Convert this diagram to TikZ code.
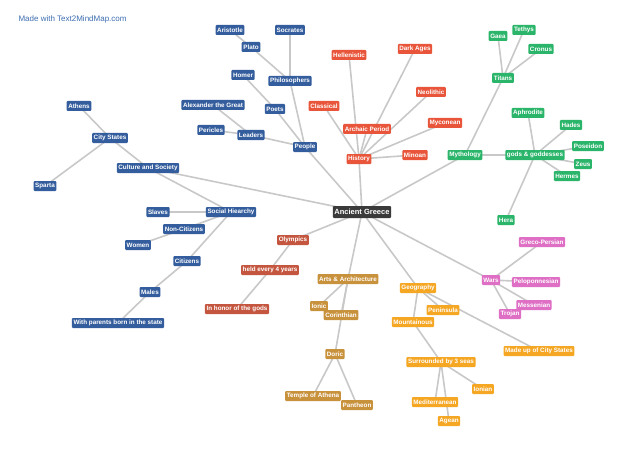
\documentclass[tikz,border=0pt]{standalone}
\usepackage{fontspec}
\setmainfont{Liberation Sans}
\usetikzlibrary{backgrounds}
\definecolor{cblue}{HTML}{345D9D}
\definecolor{cred}{HTML}{E8553A}
\definecolor{cbrick}{HTML}{C4563F}
\definecolor{cgreen}{HTML}{2BB56A}
\definecolor{cpink}{HTML}{DE6FC4}
\definecolor{cgold}{HTML}{C8913C}
\definecolor{corange}{HTML}{F5A623}
\definecolor{cdark}{HTML}{3A3A3A}
\definecolor{cedge}{HTML}{C8C8C8}
\definecolor{ctitle}{HTML}{3D6DB0}
\tikzset{
 nd/.style={rounded corners=1pt,text=white,font=\bfseries\fontsize{6.3}{7}\selectfont,inner sep=1.6pt,minimum height=10pt},
 bl/.style={nd,fill=cblue}, rd/.style={nd,fill=cred}, br/.style={nd,fill=cbrick},
 gr/.style={nd,fill=cgreen}, pk/.style={nd,fill=cpink}, gd/.style={nd,fill=cgold},
 og/.style={nd,fill=corange},
 ed/.style={draw=cedge,line width=1.6pt}
}
\begin{document}
\begin{tikzpicture}[x=1pt,y=-1pt]
\useasboundingbox (0,0) rectangle (638,452);
\node[anchor=west,text=ctitle,font=\fontsize{8}{9}\selectfont] (title) at (15,19) {Made with Text2MindMap.com};
\node[nd,fill=cdark,font=\bfseries\fontsize{7.5}{9}\selectfont,minimum height=12pt] (ag) at (362,212) {Ancient Greece};
% blue
\node[bl] (aristotle) at (230,30) {Aristotle};
\node[bl] (socrates) at (290,30) {Socrates};
\node[bl] (plato) at (251,47) {Plato};
\node[bl] (homer) at (243,75) {Homer};
\node[bl] (philo) at (290,81) {Philosophers};
\node[bl] (alex) at (213,105) {Alexander the Great};
\node[bl] (poets) at (275,109) {Poets};
\node[bl] (pericles) at (211,130) {Pericles};
\node[bl] (leaders) at (251,135) {Leaders};
\node[bl] (people) at (305,147) {People};
\node[bl] (athens) at (79,106) {Athens};
\node[bl] (city) at (110,138) {City States};
\node[bl] (culture) at (148,168) {Culture and Society};
\node[bl] (sparta) at (45,186) {Sparta};
\node[bl] (slaves) at (158,212) {Slaves};
\node[bl] (social) at (231,212) {Social Hiearchy};
\node[bl] (noncit) at (184,229) {Non-Citizens};
\node[bl] (women) at (138,245) {Women};
\node[bl] (citizens) at (187,261) {Citizens};
\node[bl] (males) at (150,292) {Males};
\node[bl] (parents) at (118,323) {With parents born in the state};
% history
\node[rd] (hell) at (349,55) {Hellenistic};
\node[rd] (dark) at (415,49) {Dark Ages};
\node[rd] (classical) at (324,106) {Classical};
\node[rd] (neo) at (431,92) {Neolithic};
\node[rd] (archaic) at (367,129) {Archaic Period};
\node[rd] (myc) at (445,123) {Myconean};
\node[rd] (history) at (359,159) {History};
\node[rd] (minoan) at (415,155) {Minoan};
% olympics
\node[br] (olympics) at (293,240) {Olympics};
\node[br] (held) at (270,270) {held every 4 years};
\node[br] (honor) at (237,309) {In honor of the gods};
% mythology
\node[gr] (gaea) at (498,36) {Gaea};
\node[gr] (tethys) at (524,30) {Tethys};
\node[gr] (cronus) at (541,49) {Cronus};
\node[gr] (titans) at (503,78) {Titans};
\node[gr] (aphro) at (528,113) {Aphrodite};
\node[gr] (hades) at (571,125) {Hades};
\node[gr] (myth) at (465,155) {Mythology};
\node[gr] (gods) at (535,155) {gods \& goddesses};
\node[gr] (poseidon) at (588,146) {Poseidon};
\node[gr] (zeus) at (583,164) {Zeus};
\node[gr] (hermes) at (567,176) {Hermes};
\node[gr] (hera) at (506,220) {Hera};
% wars
\node[pk] (greco) at (542,242) {Greco-Persian};
\node[pk] (wars) at (491,280) {Wars};
\node[pk] (pelo) at (536,282) {Peloponnesian};
\node[pk] (mess) at (534,305) {Messenian};
\node[pk] (trojan) at (510,314) {Trojan};
% arts
\node[gd] (arts) at (348,279) {Arts \& Architecture};
\node[gd] (ionic) at (319,306) {Ionic};
\node[gd] (corin) at (341,315) {Corinthian};
\node[gd] (doric) at (335,354) {Doric};
\node[gd] (temple) at (313,396) {Temple of Athena};
\node[gd] (panth) at (357,405) {Pantheon};
% geography
\node[og] (geo) at (418,288) {Geography};
\node[og] (penin) at (443,310) {Peninsula};
\node[og] (mount) at (413,322) {Mountainous};
\node[og] (seas) at (441,362) {Surrounded by 3 seas};
\node[og] (madeup) at (539,351) {Made up of City States};
\node[og] (ionian) at (483,389) {Ionian};
\node[og] (medit) at (435,402) {Mediterranean};
\node[og] (agean) at (449,421) {Agean};
\begin{scope}[on background layer]
\foreach \a/\b in {ag/people,ag/culture,ag/history,ag/myth,ag/olympics,ag/arts,ag/geo,ag/wars,
 people/philo,people/poets,people/leaders,philo/socrates,philo/plato,plato/aristotle,poets/homer,leaders/pericles,leaders/alex,
 culture/city,city/athens,city/sparta,culture/social,social/slaves,social/noncit,noncit/women,social/citizens,citizens/males,males/parents,
 history/classical,history/hell,history/dark,history/neo,history/myc,history/minoan,history/archaic,
 myth/titans,titans/gaea,titans/tethys,titans/cronus,myth/gods,gods/aphro,gods/hades,gods/poseidon,gods/zeus,gods/hermes,gods/hera,
 olympics/held,held/honor,arts/ionic,arts/corin,arts/doric,doric/temple,doric/panth,
 geo/penin,geo/mount,geo/madeup,mount/seas,seas/ionian,seas/medit,seas/agean,
 wars/greco,wars/pelo,wars/mess,wars/trojan}
 \draw[ed] (\a.center) -- (\b.center);
\end{scope}
\end{tikzpicture}
\end{document}
